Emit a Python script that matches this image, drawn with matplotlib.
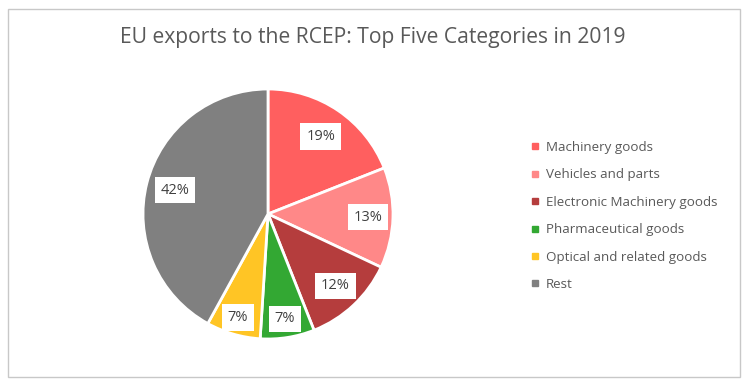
import matplotlib
matplotlib.use("Agg")
import matplotlib.pyplot as plt
import numpy as np
from matplotlib.lines import Line2D
from matplotlib.patches import Rectangle

categories = ["Machinery goods", "Vehicles and parts", "Electronic Machinery goods",
              "Pharmaceutical goods", "Optical and related goods", "Rest"]
shares = [19, 13, 12, 7, 7, 42]
colors = ["#FF5F5F", "#FF8888", "#B53D3D", "#33A833", "#FFC525", "#808080"]
title = "EU exports to the RCEP: Top Five Categories in 2019"
label_dist = [0.75, 0.80, 0.79, 0.85, 0.86, 0.77]

plt.rcParams['font.family'] = ['Open Sans', 'DejaVu Sans']
W, H = 749, 386
fig = plt.figure(figsize=(W/100, H/100), dpi=100)
fig.patch.set_facecolor("white")

# outer border
fig.patches.append(Rectangle((8/W, 1-377/H), (740-8)/W, (377-9)/H, transform=fig.transFigure,
                             fill=False, edgecolor="#C8C8C8", linewidth=1))

fig.text(373/W, 1-38/H, title, ha="center", va="center", fontsize=15.2, color="#595959")

cx, cy, r = 268, 214, 125
ax = fig.add_axes([(cx-r)/W, 1-(cy+r)/H, 2*r/W, 2*r/H])
wedges, texts, autotexts = ax.pie(
    shares, colors=colors, startangle=90, counterclock=False,
    autopct=lambda p: f"{p:.0f}%", pctdistance=0.75,
    wedgeprops=dict(edgecolor="white", linewidth=2),
    textprops=dict(fontsize=10.5, color="#404040"))
for w, t, d in zip(wedges, autotexts, label_dist):
    ang = np.deg2rad((w.theta1 + w.theta2) / 2)
    t.set_position((d * np.cos(ang), d * np.sin(ang)))
    t.set_bbox(dict(facecolor="white", edgecolor="none", boxstyle="square,pad=0.4"))
ax.set_xlim(-1, 1)
ax.set_ylim(-1, 1)
ax.set_aspect("equal")
ax.axis("off")

handles = [Line2D([0], [0], marker="s", linestyle="none", markersize=5,
                  markerfacecolor=c, markeredgecolor=c) for c in colors]
leg = fig.legend(handles, categories, loc="upper left",
                 bbox_to_anchor=(519/W, 1-129/H), frameon=False,
                 fontsize=9.6, labelspacing=1.08, handlelength=0.6,
                 handletextpad=0.5, labelcolor="#595959")

fig.savefig("out.png", dpi=100)
